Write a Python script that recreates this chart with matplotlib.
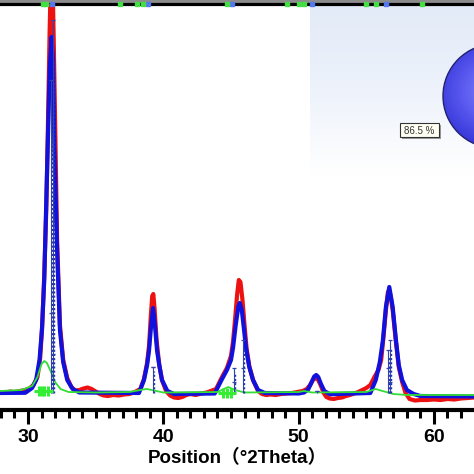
import numpy as np
import matplotlib
matplotlib.use('Agg')
import matplotlib.pyplot as plt
from matplotlib.patches import Circle, Rectangle
from matplotlib.ticker import MultipleLocator
from matplotlib.colors import LinearSegmentedColormap
import matplotlib.transforms as mtransforms

# ---------------- data ----------------
obs_theta = [27.93, 28.3, 28.7, 29.0, 29.4, 29.8, 30.1, 30.4, 30.7, 30.9, 31.05, 31.2, 31.35,
             31.48, 31.6, 31.7, 31.8, 31.9, 32.0, 32.15, 32.36, 32.6, 32.9, 33.2, 33.5,
             33.8, 34.1, 34.4, 34.7, 35.0, 35.3, 35.6, 35.9, 36.3, 36.7, 37.1, 37.5, 37.9,
             38.3, 38.57, 38.8, 38.95, 39.08, 39.18, 39.26, 39.35, 39.5, 39.7, 39.9, 40.2,
             40.5, 40.8, 41.1, 41.4, 41.7, 42.0, 42.4, 42.8, 43.2, 43.6, 43.9, 44.3, 44.7,
             45.0, 45.15, 45.3, 45.45, 45.58, 45.7, 45.85, 46.0, 46.15, 46.35, 46.63, 47.0,
             47.3, 47.6, 47.9, 48.3, 48.7, 49.1, 49.5, 49.9, 50.3, 50.6, 50.85, 51.05,
             51.25, 51.45, 51.65, 51.85, 52.05, 52.3, 52.6, 52.9, 53.2, 53.5, 53.8, 54.1,
             54.4, 54.7, 55.0, 55.3, 55.6, 55.9, 56.1, 56.25, 56.45, 56.6, 56.7, 56.82,
             56.95, 57.19, 57.4, 57.65, 57.9, 58.2, 58.6, 59.0, 59.5, 60.0, 60.5, 61.0,
             61.5, 62.0, 62.5, 62.96]
obs_counts = [180, 175, 185, 178, 190, 200, 215, 250, 330, 520, 850, 1350, 2000,
              2900, 3800, 4400, 4400, 3700, 2900, 1700, 850, 500, 320, 230, 195,
              200, 215, 225, 210, 185, 160, 145, 140, 150, 145, 155, 160, 180,
              210, 310, 470, 650, 950, 1140, 1160, 1020, 700, 450, 300, 190,
              145, 125, 120, 130, 150, 160, 150, 165, 175, 195, 210, 320, 420,
              540, 680, 900, 1150, 1300, 1280, 1100, 850, 620, 440, 300, 190,
              160, 150, 155, 150, 160, 165, 170, 180, 190, 210, 250, 300,
              320, 300, 240, 170, 130, 115, 110, 120, 125, 140, 150, 165,
              180, 200, 220, 250, 330, 400, 500, 700, 1000, 1180, 1200, 1120,
              1000, 680, 430, 280, 170, 110, 95, 100, 100, 105, 100, 110,
              105, 115, 120, 125]

calc_theta = [27.93, 29.8, 30.3, 30.6, 30.85, 31.03, 31.2, 31.45, 31.6, 31.74, 31.85,
              31.95, 32.15, 32.36, 32.6, 32.9, 33.3, 33.8, 38.2, 38.57, 38.8, 38.94,
              39.1, 39.24, 39.38, 39.54, 39.7, 39.9, 40.3, 40.8, 43.8, 44.3, 44.7,
              45.0, 45.15, 45.35, 45.55, 45.65, 45.8, 45.95, 46.11, 46.35, 46.63, 47.0,
              47.5, 50.0, 50.4, 50.7, 50.95, 51.15, 51.3, 51.45, 51.65, 51.9, 52.3,
              55.3, 55.7, 56.0, 56.23, 56.45, 56.7, 56.95, 57.19, 57.4, 57.65, 58.0,
              58.5, 59.0, 62.96]
calc_counts = [170, 172, 220, 300, 500, 800, 1300, 2600, 3400, 3730, 3500,
               2600, 1600, 800, 480, 300, 210, 175, 170, 300, 450, 590,
               850, 1020, 850, 590, 450, 300, 190, 160, 165, 300, 400,
               500, 620, 850, 1040, 1070, 1000, 820, 620, 430, 300, 200,
               170, 165, 175, 205, 275, 335, 350, 330, 260, 190, 158,
               170, 300, 480, 700, 1030, 1230, 1030, 700, 450, 300, 200,
               160, 140, 135]

bg_theta = [27.93, 29.5, 30.3, 30.7, 31.0, 31.2, 31.4, 31.7, 32.0, 32.4, 33.0, 35.0,
            37.5, 38.5, 38.8, 39.3, 40.0, 44.0, 44.8, 45.3, 46.0, 50.0, 50.4, 51.0,
            55.0, 55.7, 56.2, 57.0, 58.0, 62.96]
bg_counts = [190, 200, 240, 330, 460, 490, 470, 380, 280, 210, 180, 175,
             180, 205, 210, 195, 175, 180, 230, 200, 175, 180, 190, 175,
             180, 210, 190, 160, 150, 150]

# reflection markers: position, top height, cross-bar heights
ref_pos = [31.72, 31.84, 39.26, 45.23, 45.9, 51.35, 56.6, 56.75]
ref_top = [3300, 3900, 430, 420, 700, 190, 600, 700]
ref_bar = [970, 560, 430, 280, 420, 190, 420, 280]
diff_pos = [30.8, 31.0, 31.2, 31.45, 44.4, 44.7, 45.0]
diff_counts = [190, 195, 190, 190, 175, 170, 175]

top_green = [31.11, 31.3, 36.78, 38.04, 38.48, 44.67, 49.16, 50.05, 50.42, 54.99, 55.72, 59.11]
top_blue = [31.77, 38.85, 45.11, 51.0, 56.46]

phase_label = "86.5 %"
x_ticks = [30, 40, 50, 60]

# ---------------- figure ----------------
W = 474
fig = plt.figure(figsize=(4.74, 4.74), dpi=100)
fig.patch.set_facecolor('white')

bg = fig.add_axes([0, 0, 1, 1])
bg.set_xlim(0, W); bg.set_ylim(W, 0); bg.axis('off')
cm = LinearSegmentedColormap.from_list('g', ['#e3ebf8', '#edf2fb', '#ffffff'])
grad = np.linspace(0, 1, 200)[:, None]
bg.imshow(grad, cmap=cm, extent=[310, W, 175, 4], aspect='auto', zorder=1)
bg.add_patch(Rectangle((0, 0), W, 2.5, color='#8c8c8c', zorder=2))

ax = fig.add_axes([0, (W - 410) / W, 1, (410 - 3.5) / W])
ax.patch.set_alpha(0)
ax.set_xlim(27.93, 62.96)
ax.set_ylim(0, 4065)

ax.plot(obs_theta, obs_counts, color='#ee1111', lw=3.0, solid_joinstyle='round', zorder=3)
ax.plot(calc_theta, calc_counts, color='#1111dd', lw=3.0, solid_joinstyle='round', zorder=4)
ax.plot(bg_theta, bg_counts, color='#33dd33', lw=1.3, zorder=5)

for p, t, b in zip(ref_pos, ref_top, ref_bar):
    ax.vlines(p, 170, t, color='#3344aa', lw=0.8, zorder=6)
    ax.vlines(p + 0.06, 170, t * 0.9, color='#2233aa', lw=1.0, linestyles=(0, (1.5, 1.5)), zorder=6)
    ax.hlines([b, t], p - 0.15, p + 0.15, color='#3344aa', lw=0.9, zorder=6)
ax.plot(diff_pos, diff_counts, '+', color='#33ee33', ms=7, mew=2.2, zorder=6)

tr = mtransforms.blended_transform_factory(ax.transData, ax.transAxes)
ax.plot(top_blue, [1.0] * len(top_blue), 's', color='#5577ee', ms=2.2, transform=tr,
        clip_on=False, zorder=10)
ax.plot(top_green, [1.0] * len(top_green), 's', color='#44dd44', ms=2.4, transform=tr,
        clip_on=False, zorder=11)

for s in ['left', 'right']:
    ax.spines[s].set_visible(False)
ax.spines['top'].set_linewidth(2.3)
ax.spines['bottom'].set_linewidth(3.0)
ax.set_yticks([])
ax.xaxis.set_major_locator(MultipleLocator(10))
ax.xaxis.set_minor_locator(MultipleLocator(1))
ax.tick_params(axis='x', which='major', direction='out', length=10, width=2.2, pad=4,
               labelsize=14)
ax.tick_params(axis='x', which='minor', direction='out', length=5.5, width=2.2)
ax.set_xticks(x_ticks)
ax.set_xticklabels([str(v) for v in x_ticks], fontweight='bold', family='Liberation Sans')
ax.set_xlabel('Position（°2Theta）', fontsize=13.5, fontweight='bold',
              family=['Liberation Sans', 'Noto Sans CJK SC'], labelpad=2)

fg = fig.add_axes([0, 0, 1, 1])
fg.set_xlim(0, W); fg.set_ylim(W, 0); fg.axis('off')
circ = Circle((495, 96), 52, facecolor='none', edgecolor='#22226e', lw=1.0, zorder=3)
fg.add_patch(circ)
yy, xx = np.mgrid[-1:1:200j, -1:1:200j]
rr = np.sqrt((xx + 0.1) ** 2 + (yy + 0.1) ** 2)
cm2 = LinearSegmentedColormap.from_list('c', ['#8080f8', '#5a5af0', '#3434d8'])
im = fg.imshow(rr, cmap=cm2, extent=[443, 547, 148, 44], vmin=0, vmax=1.1, zorder=2)
im.set_clip_path(Circle((495, 96), 52, transform=fg.transData))
fg.add_patch(Rectangle((402, 125), 39, 14, facecolor='#9a9a9a', edgecolor='none', zorder=4))
fg.add_patch(Rectangle((400, 123), 39, 14, facecolor='#fffff2', edgecolor='#333333', lw=0.8, zorder=5))
fg.text(419.5, 130.5, phase_label, ha='center', va='center', fontsize=7, color='#333333',
        family='Liberation Sans', zorder=6)

fig.savefig('out.png', dpi=100)
